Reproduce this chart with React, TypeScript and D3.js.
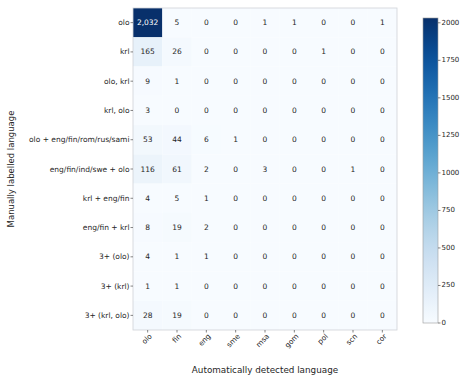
import React from "react";
import * as d3 from "d3";

const rowLabels = ["olo", "krl", "olo, krl", "krl, olo", "olo + eng/fin/rom/rus/sami", "eng/fin/ind/swe + olo", "krl + eng/fin", "eng/fin + krl", "3+ (olo)", "3+ (krl)", "3+ (krl, olo)"];
const colLabels = ["olo", "fin", "eng", "sme", "msa", "gom", "pol", "scn", "cor"];
const values: number[][] = [
  [2032, 5, 0, 0, 1, 1, 0, 0, 1],
  [165, 26, 0, 0, 0, 0, 1, 0, 0],
  [9, 1, 0, 0, 0, 0, 0, 0, 0],
  [3, 0, 0, 0, 0, 0, 0, 0, 0],
  [53, 44, 6, 1, 0, 0, 0, 0, 0],
  [116, 61, 2, 0, 3, 0, 0, 1, 0],
  [4, 5, 1, 0, 0, 0, 0, 0, 0],
  [8, 19, 2, 0, 0, 0, 0, 0, 0],
  [4, 1, 1, 0, 0, 0, 0, 0, 0],
  [1, 1, 0, 0, 0, 0, 0, 0, 0],
  [28, 19, 0, 0, 0, 0, 0, 0, 0],
];
const cbTicks = [0, 250, 500, 750, 1000, 1250, 1500, 1750, 2000];
const xTitle = "Automatically detected language";
const yTitle = "Manually labelled language";

export default function App() {
  const W = 474, H = 380;
  const left = 133, right = 397, top = 8, bottom = 330;
  const x = d3.scaleBand<string>().domain(colLabels).range([left, right]);
  const y = d3.scaleBand<string>().domain(rowLabels).range([top, bottom]);
  const vmax = d3.max(values.flat()) as number;
  const color = d3.scaleSequential(d3.interpolateBlues).domain([0, vmax]);
  const cbX = 423, cbW = 15, cbTop = 18, cbBottom = 323;
  const cbScale = d3.scaleLinear().domain([0, vmax]).range([cbBottom, cbTop]);
  const font = "DejaVu Sans, sans-serif";
  const fmt = d3.format(",");
  const stops = d3.range(0, 1.0001, 0.05);

  return (
    <svg width={W} height={H} style={{ position: "absolute", left: 0, top: 0, background: "#fff" }} fontFamily={font}>
      <defs>
        <linearGradient id="cb" x1="0" y1="1" x2="0" y2="0">
          {stops.map((s) => (
            <stop key={s} offset={s} stopColor={color(s * vmax)} />
          ))}
        </linearGradient>
      </defs>
      {values.map((row, i) =>
        row.map((v, j) => (
          <g key={`${i}-${j}`}>
            <rect x={x(colLabels[j])} y={y(rowLabels[i])} width={x.bandwidth()} height={y.bandwidth()} fill={color(v)} />
            <text
              x={(x(colLabels[j]) as number) + x.bandwidth() / 2}
              y={(y(rowLabels[i]) as number) + y.bandwidth() / 2}
              textAnchor="middle"
              dominantBaseline="central"
              fontSize={7.5}
              fill={v > vmax / 2 ? "#ffffff" : "#262626"}
            >
              {fmt(v)}
            </text>
          </g>
        ))
      )}
      <rect x={left} y={top} width={right - left} height={bottom - top} fill="none" stroke="#cfd3d8" strokeWidth={0.8} />
      {rowLabels.map((r) => {
        const cy = (y(r) as number) + y.bandwidth() / 2;
        return (
          <g key={r}>
            <line x1={left - 2.5} x2={left} y1={cy} y2={cy} stroke="#333" strokeWidth={0.6} />
            <text x={left - 3.5} y={cy} textAnchor="end" dominantBaseline="central" fontSize={7.5} fill="#262626">
              {r}
            </text>
          </g>
        );
      })}
      {colLabels.map((c) => {
        const cx = (x(c) as number) + x.bandwidth() / 2;
        return (
          <g key={c}>
            <line x1={cx} x2={cx} y1={bottom} y2={bottom + 2.5} stroke="#333" strokeWidth={0.6} />
            <text
              transform={`translate(${cx + 3},${bottom + 5}) rotate(-45)`}
              textAnchor="end"
              dominantBaseline="central"
              fontSize={7.3}
              fill="#262626"
            >
              {c}
            </text>
          </g>
        );
      })}
      <text x={(left + right) / 2} y={373} textAnchor="middle" fontSize={8.8} fill="#262626">
        {xTitle}
      </text>
      <text transform={`translate(11,${(top + bottom) / 2}) rotate(-90)`} textAnchor="middle" dominantBaseline="central" fontSize={8.5} fill="#262626">
        {yTitle}
      </text>
      <rect x={cbX} y={cbTop} width={cbW} height={cbBottom - cbTop} fill="url(#cb)" stroke="#999" strokeWidth={0.6} />
      {cbTicks.map((t) => (
        <g key={t}>
          <line x1={cbX + cbW} x2={cbX + cbW + 2.5} y1={cbScale(t)} y2={cbScale(t)} stroke="#333" strokeWidth={0.6} />
          <text x={cbX + cbW + 3.5} y={cbScale(t)} dominantBaseline="central" fontSize={7} fill="#262626">
            {t}
          </text>
        </g>
      ))}
    </svg>
  );
}
